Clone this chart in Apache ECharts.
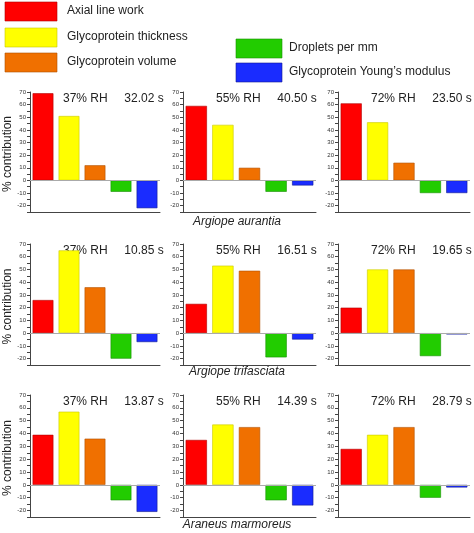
<!DOCTYPE html><html><head><meta charset="utf-8"><script src="https://cdn.jsdelivr.net/npm/echarts@6/dist/echarts.min.js"></script>
<style>html,body{margin:0;padding:0;background:#fff}#c{width:474px;height:533px}</style></head><body><div id="c"></div><script>
const factors=["Axial line work","Glycoprotein thickness","Glycoprotein volume","Droplets per mm","Glycoprotein Young’s modulus"];
const colors=["#ff0000","#ffff00","#f07000","#22cc00","#1a2cff"];
const borders=["#b00000","#c8c800","#b05000","#189000","#101a90"];
const species=["Argiope aurantia","Argiope trifasciata","Araneus marmoreus"];
const rhLabels=["37% RH","55% RH","72% RH"];
const times=[["32.02 s","40.50 s","23.50 s"],["10.85 s","16.51 s","19.65 s"],["13.87 s","14.39 s","28.79 s"]];
const aurantia=[[69,51,12,-9,-22],[59,44,10,-9,-4],[61,46,14,-10,-10]];
const trifasciata=[[26,65,36,-20,-7],[23,53,49,-19,-5],[20,50,50,-18,-1]];
const marmoreus=[[39,57,36,-12,-21],[35,47,45,-12,-16],[28,39,45,-10,-2]];
const allData=[aurantia,trifasciata,marmoreus];
const yTicks=[-20,-10,0,10,20,30,40,50,60,70];
const colX=[[30,314],[183,158],[338,4]];
const rowY=[[92,212],[244,365],[395,517]];
const grids=[],xAxes=[],yAxes=[],series=[],graphics=[];
const ff='Liberation Sans, Arial, sans-serif';
for(let r=0;r<3;r++)for(let c=0;c<3;c++){
 const i=r*3+c;
 grids.push({left:colX[c][0],right:colX[c][1],top:rowY[r][0],height:rowY[r][1]-rowY[r][0]});
 xAxes.push({gridIndex:i,type:'category',data:factors,axisLine:{onZero:false,lineStyle:{color:'#444'}},axisTick:{show:false},axisLabel:{show:false}});
 yAxes.push({gridIndex:i,type:'value',min:-25,max:70,interval:5,splitLine:{show:false},axisLine:{show:true,lineStyle:{color:'#444'}},axisTick:{show:true,length:3,lineStyle:{color:'#444'}},minorTick:{show:false},
  axisLabel:{fontSize:6,color:'#333',fontFamily:ff,margin:4,formatter:v=>yTicks.includes(v)?String(v):''}});
 series.push({type:'bar',xAxisIndex:i,yAxisIndex:i,barCategoryGap:'20%',
  data:allData[r][c].map((v,k)=>({value:v,itemStyle:{color:colors[k],borderColor:borders[k],borderWidth:0.6}})),
  markLine:{silent:true,symbol:'none',label:{show:false},lineStyle:{color:'#aaa',type:'solid',width:1},data:[{yAxis:0}]}});
 const gx=[30,183,338][c];
 graphics.push({type:'text',left:gx+33,top:rowY[r][0]+1,style:{text:rhLabels[c]+'     '+times[r][c],fontSize:12,fill:'#222',fontFamily:ff}});
}
for(let r=0;r<3;r++){
 graphics.push({type:'text',left:'center',top:[216,366,519][r],style:{text:species[r],fontSize:12,fontStyle:'italic',fill:'#222',fontFamily:ff}});
 graphics.push({type:'text',x:2,y:(rowY[r][0]+rowY[r][1])/2+40,rotation:Math.PI/2,style:{text:'% contribution',fontSize:12,fill:'#222',fontFamily:ff}});
}
const leg=[[5,2],[5,28],[5,53],[236,39],[236,63]];
leg.forEach((p,k)=>{
 graphics.push({type:'rect',shape:{x:p[0],y:p[1],width:p[0]<100?52:46,height:19},style:{fill:colors[k],stroke:borders[k],lineWidth:0.6}});
 graphics.push({type:'text',x:p[0]+(p[0]<100?62:53),y:p[1]+3,style:{text:factors[k],fontSize:12,fill:'#222',fontFamily:ff}});
});
const ch=echarts.init(document.getElementById('c'));
ch.setOption({animation:false,grid:grids,xAxis:xAxes,yAxis:yAxes,series:series,graphic:graphics});
</script></body></html>
